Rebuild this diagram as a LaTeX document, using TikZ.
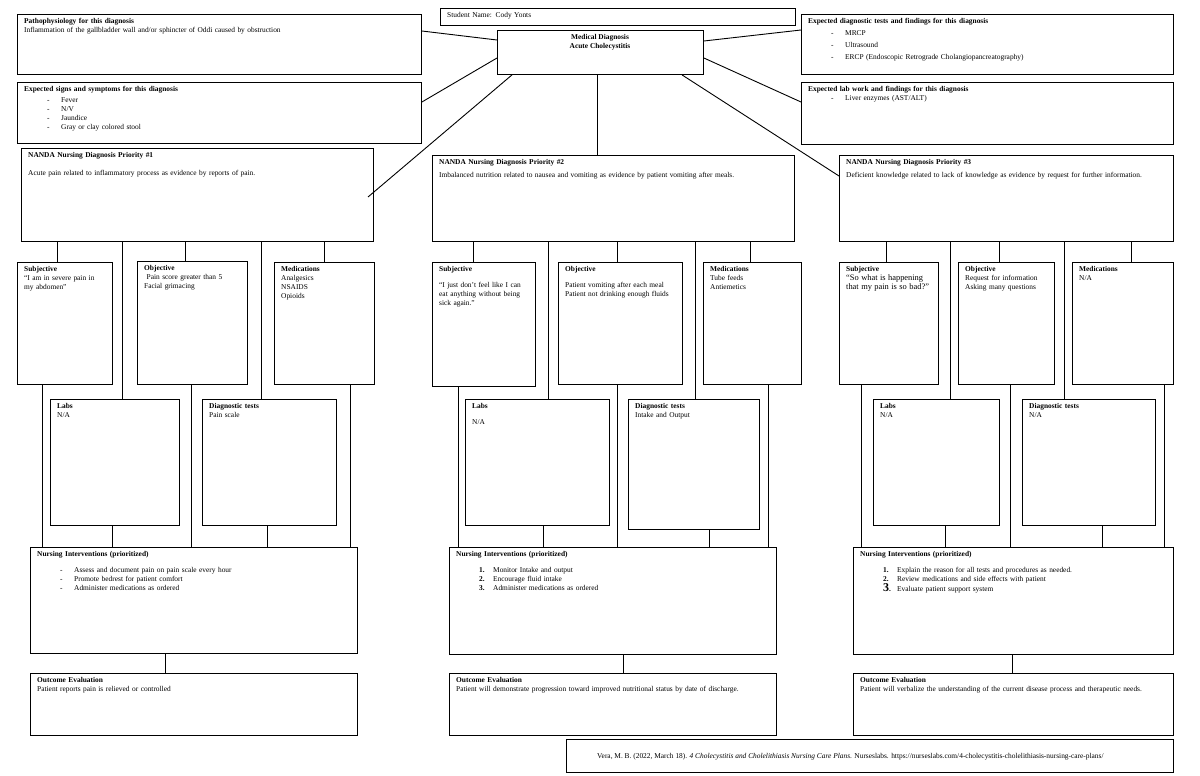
\documentclass[tikz,border=0pt]{standalone}
\usepackage{fontspec}
\setmainfont{Liberation Serif}
\tikzset{box/.style={draw,line width=0.9pt,inner sep=0pt,rectangle},
 txt/.style={inner sep=0pt,align=left,font=\fontsize{7.4}{9}\selectfont},
 ln/.style={line width=0.9pt}}
\newcommand\bx[6]{\pgfmathsetmacro\bw{#4-#2}\pgfmathsetmacro\bh{#5-#3}\pgfmathsetmacro\tw{#4-#2-14}%
\node[box,anchor=north west,minimum width=\bw pt,minimum height=\bh pt] (#1) at (#2,#3) {};
\node[txt,anchor=north west,text width=\tw pt] (#1t) at (#2+7,#3+4) {#6};}
\newcommand\itm[1]{\hspace*{23pt}\makebox[14pt][l]{-}#1}
\newcommand\nitm[2]{\hspace*{23pt}\makebox[14pt][l]{\textbf{#1}}#2}
\begin{document}
\begin{tikzpicture}[x=1pt,y=-1pt]
\useasboundingbox (0,0) rectangle (1200,776);
\fill[white] (0,0) rectangle (1200,776);
% top
\bx{stu}{440}{8}{795}{25}{Student Name: Cody Yonts}
\node[box,anchor=north west,minimum width=206pt,minimum height=44pt] (med) at (497,30) {};
\node[txt,align=center,font=\fontsize{7.4}{9}\selectfont\bfseries,anchor=north] (medt) at (600,34) {Medical Diagnosis\\Acute Cholecystitis};
\bx{pat}{17}{14}{421}{74}{\textbf{Pathophysiology for this diagnosis}\\Inflammation of the gallbladder wall and/or sphincter of Oddi caused by obstruction}
\bx{sig}{17}{82}{421}{143}{\textbf{Expected signs and symptoms for this diagnosis}\\[2pt]\itm{Fever}\\\itm{N/V}\\\itm{Jaundice}\\\itm{Gray or clay colored stool}}
\bx{edt}{801}{14}{1173}{74}{\textbf{Expected diagnostic tests and findings for this diagnosis}\\[3pt]\itm{MRCP}\\[3pt]\itm{Ultrasound}\\[3pt]\itm{ERCP (Endoscopic Retrograde Cholangiopancreatography)}}
\bx{lab}{801}{82}{1173}{144}{\textbf{Expected lab work and findings for this diagnosis}\\\itm{Liver enzymes (AST/ALT)}}
\bx{n1}{21}{148}{373}{241}{\textbf{NANDA Nursing Diagnosis Priority \#1}\\[9pt]Acute pain related to inflammatory process as evidence by reports of pain.}
\bx{n2}{432}{155}{794}{241}{\textbf{NANDA Nursing Diagnosis Priority \#2}\\[4pt]Imbalanced nutrition related to nausea and vomiting as evidence by patient vomiting after meals.}
\bx{n3}{839}{155}{1173}{241}{\textbf{NANDA Nursing Diagnosis Priority \#3}\\[4pt]Deficient knowledge related to lack of knowledge as evidence by request for further information.}
\coordinate (c1) at (368,197);
\draw[ln] (pat.east |- 0,31) -- (med.west |- 0,40);
\draw[ln] (sig.east |- 0,102) -- (med.west |- 0,58);
\draw[ln] (c1) -- (512,0 |- med.south);
\draw[ln] (597,0 |- med.south) -- (597,0 |- n2.north);
\draw[ln] (med.east |- 0,41) -- (edt.west |- 0,30);
\draw[ln] (med.east |- 0,58) -- (lab.west |- 0,102);
\draw[ln] (682,0 |- med.south) -- (n3.west |- 0,176);
% column 1
\bx{s1}{17}{262}{112}{384}{\textbf{Subjective}\\``I am in severe pain in my abdomen''}
\bx{o1}{137}{261}{247}{384}{\textbf{Objective}\\\ Pain score greater than 5\\Facial grimacing}
\bx{m1}{274}{262}{374}{384}{\textbf{Medications}\\Analgesics\\NSAIDS\\Opioids}
\bx{l1}{50}{399}{179}{525}{\textbf{Labs}\\N/A}
\bx{d1}{202}{399}{336}{525}{\textbf{Diagnostic tests}\\Pain scale}
\bx{i1}{30}{547}{357}{653}{\textbf{Nursing Interventions (prioritized)}\\[7pt]\itm{Assess and document pain on pain scale every hour}\\\itm{Promote bedrest for patient comfort}\\\itm{Administer medications as ordered}}
\bx{e1}{30}{673}{357}{735}{\textbf{Outcome Evaluation}\\Patient reports pain is relieved or controlled}
\foreach \x/\b in {57/s1,122/l1,185/o1,261/d1,324/m1} \draw[ln] (\x,0 |- n1.south) -- (\x,0 |- \b.north);
\foreach \x/\b in {42/s1,112/l1,191/o1,267/d1,350/m1} \draw[ln] (\x,0 |- \b.south) -- (\x,0 |- i1.north);
\draw[ln] (165,0 |- i1.south) -- (165,0 |- e1.north);
% column 2
\bx{s2}{432}{262}{535}{386}{\textbf{Subjective}\\[7pt]``I just don't feel like I can eat anything without being sick again.''}
\bx{o2}{558}{262}{682}{384}{\textbf{Objective}\\[7pt]Patient vomiting after each meal\\Patient not drinking enough fluids}
\bx{m2}{703}{262}{801}{384}{\textbf{Medications}\\Tube feeds\\Antiemetics}
\bx{l2}{465}{399}{609}{525}{\textbf{Labs}\\[7pt]N/A}
\bx{d2}{628}{399}{759}{529}{\textbf{Diagnostic tests}\\Intake and Output}
\bx{i2}{449}{547}{776}{654}{\textbf{Nursing Interventions (prioritized)}\\[7pt]\nitm{1.}{Monitor Intake and output}\\\nitm{2.}{Encourage fluid intake}\\\nitm{3.}{Administer medications as ordered}}
\bx{e2}{449}{673}{776}{735}{\textbf{Outcome Evaluation}\\Patient will demonstrate progression toward improved nutritional status by date of discharge.}
\foreach \x/\b in {473/s2,548/l2,617/o2,695/d2,750/m2} \draw[ln] (\x,0 |- n2.south) -- (\x,0 |- \b.north);
\foreach \x/\b in {458/s2,543/l2,617/o2,709/d2,768/m2} \draw[ln] (\x,0 |- \b.south) -- (\x,0 |- i2.north);
\draw[ln] (623,0 |- i2.south) -- (623,0 |- e2.north);
% column 3
\bx{s3}{839}{262}{938}{384}{\textbf{Subjective}\\{\fontsize{8.4}{10}\selectfont``So what is happening that my pain is so bad?''}}
\bx{o3}{958}{262}{1054}{384}{\textbf{Objective}\\Request for information\\Asking many questions}
\bx{m3}{1072}{262}{1173}{384}{\textbf{Medications}\\N/A}
\bx{l3}{873}{399}{999}{525}{\textbf{Labs}\\N/A}
\bx{d3}{1022}{399}{1155}{525}{\textbf{Diagnostic tests}\\N/A}
\bx{i3}{853}{547}{1173}{654}{\textbf{Nursing Interventions (prioritized)}\\[7pt]\nitm{1.}{Explain the reason for all tests and procedures as needed.}\\\nitm{2.}{Review medications and side effects with patient}\\\nitm{{\large 3}.}{Evaluate patient support system}}
\bx{e3}{853}{673}{1173}{735}{\textbf{Outcome Evaluation}\\Patient will verbalize the understanding of the current disease process and therapeutic needs.}
\foreach \x/\b in {886/s3,950/l3,999/o3,1064/d3,1131/m3} \draw[ln] (\x,0 |- n3.south) -- (\x,0 |- \b.north);
\foreach \x/\b in {861/s3,945/l3,1010/o3,1102/d3,1164/m3} \draw[ln] (\x,0 |- \b.south) -- (\x,0 |- i3.north);
\draw[ln] (1012,0 |- i3.south) -- (1012,0 |- e3.north);
% citation
\node[box,anchor=north west,minimum width=607pt,minimum height=33pt] (cit) at (566,739) {};
\node[txt,anchor=west] (citt) at (597,757) {Vera, M. B. (2022, March 18). \textit{4 Cholecystitis and Cholelithiasis Nursing Care Plans}. Nurseslabs. https://nurseslabs.com/4-cholecystitis-cholelithiasis-nursing-care-plans/};
\end{tikzpicture}
\end{document}
